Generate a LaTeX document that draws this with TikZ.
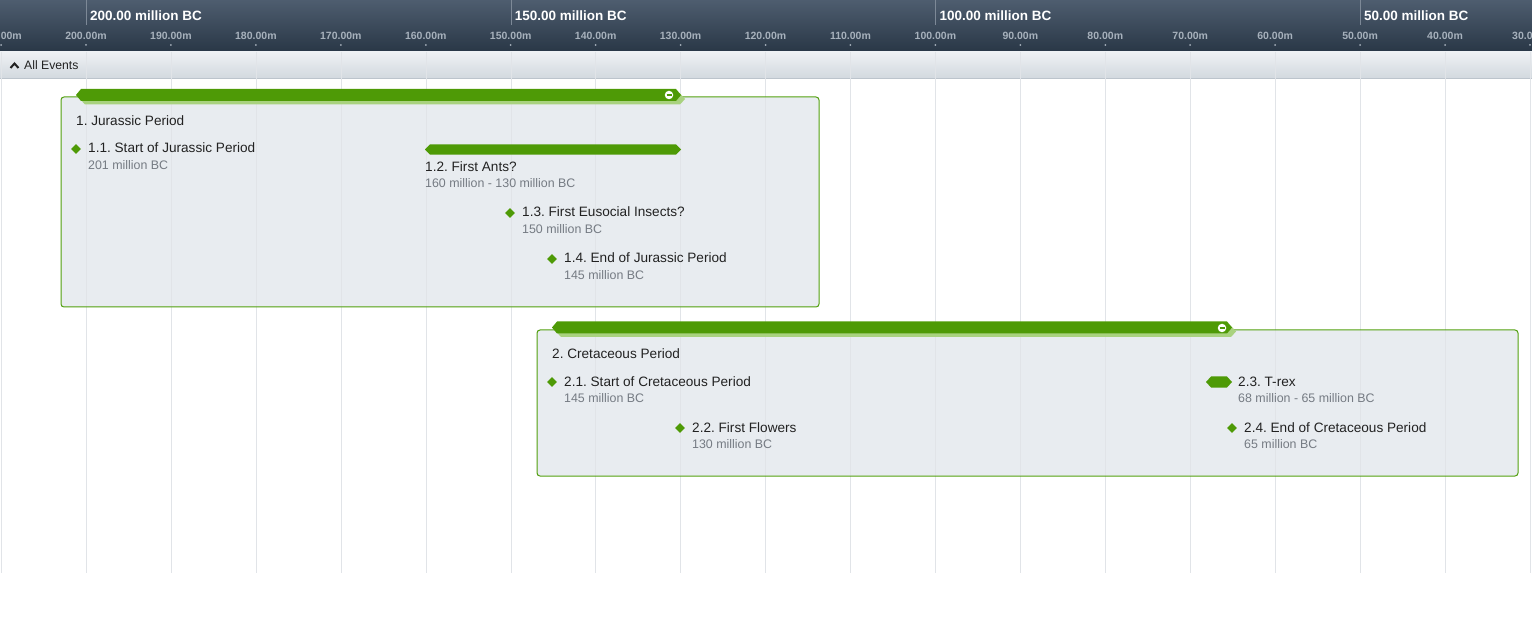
\documentclass[tikz,border=0pt]{standalone}
\usepackage{fontspec}
\setmainfont{Liberation Sans}
\usetikzlibrary{shapes.geometric}

\definecolor{hdrtop}{HTML}{4E5D6F}
\definecolor{hdrbot}{HTML}{293746}
\definecolor{tick}{HTML}{A7B1BC}
\definecolor{sepline}{HTML}{7D8997}
\definecolor{bandtop}{HTML}{EEF1F4}
\definecolor{bandbot}{HTML}{D3D9DF}
\definecolor{bandline}{HTML}{BCC4CC}
\definecolor{gridline}{HTML}{E1E4E8}
\definecolor{evgreen}{HTML}{4E9A06}
\definecolor{evlight}{HTML}{A9D27F}
\definecolor{boxfill}{HTML}{E8ECF0}
\definecolor{boxline}{HTML}{52A00E}
\definecolor{nametext}{HTML}{222222}
\definecolor{datetext}{HTML}{757B83}

% bar with pointed ends: x1, x2, y centre, half height
\newcommand{\evbar}[5][evgreen]{%
  \fill[#1] (#2,#4) -- ({#2+5},{#4-#5}) -- ({#3-5},{#4-#5}) -- (#3,#4)
    -- ({#3-5},{#4+#5}) -- ({#2+5},{#4+#5}) -- cycle;}

\begin{document}
\begin{tikzpicture}[x=1pt,y=-1pt,
  majorlbl/.style={anchor=west,inner sep=0pt,text=white,font=\fontsize{13.5}{16}\selectfont\bfseries},
  minorlbl/.style={inner sep=0pt,text=tick,font=\fontsize{10.5}{12}\selectfont\bfseries},
  evname/.style={anchor=base west,inner sep=0pt,text=nametext,font=\fontsize{13.6}{16}\selectfont},
  evdate/.style={anchor=base west,inner sep=0pt,text=datetext,font=\fontsize{12.4}{14}\selectfont},
  milestone/.style={diamond,fill=evgreen,inner sep=0pt,minimum width=10pt,minimum height=10pt},
  groupbox/.style={draw=boxline,line width=1pt,rounded corners=3pt},
  collapse/.style={circle,fill=white,inner sep=0pt,minimum size=8.5pt}]
\clip (0,0) rectangle (1532,628);
\fill[white] (0,0) rectangle (1532,628);

% header
\shade[top color=hdrtop,bottom color=hdrbot] (0,0) rectangle (1532,52);
\foreach \m in {210,200,...,30} {
  \pgfmathsetmacro\xx{86+(200-\m)*8.494}
  \node[minorlbl] (tick\m) at (\xx,35.5) {\m.00m};
  \fill[tick] (\xx,45) circle (1);
}
\foreach \m/\xx in {200/86,150/510.7,100/935.4,50/1360} {
  \draw[sepline] (\xx,0) -- (\xx,25);
  \node[majorlbl] (major\m) at (\xx+4,15.5) {\m.00 million BC};
}

% all events band
\shade[top color=bandtop,bottom color=bandbot] (0,52) rectangle (1532,78);
\draw[bandline] (0,78) -- (1532,78);
\draw[nametext,line width=2pt] (10.5,68) -- (14.5,63.5) -- (18.5,68);
\node[evdate,text=nametext,font=\fontsize{12.2}{14}\selectfont] (allev) at (24,69.8) {All Events};

% group boxes
\fill[boxfill] (61,97) rectangle (819,307);
\fill[boxfill] (537,330) rectangle (1518,476);

% grid
\foreach \m in {210,200,...,30} {
  \pgfmathsetmacro\xx{86+(200-\m)*8.494}
  \draw[gridline] (\xx,52) -- (\xx,573);
}
\draw[groupbox] (61,97) rectangle (819,307);
\draw[groupbox] (537,330) rectangle (1518,476);

% Jurassic
\evbar[evlight]{80}{685}{99}{5.5}
\evbar{76}{681}{95}{6}
\node[collapse] (jurc) at (669,95) {};
\draw[evgreen,line width=1.2pt] (666.5,95) -- (671.5,95);
\node[evname] (jur) at (76,126) {1.\ Jurassic Period};

\node[milestone] (jur1d) at (76,149) {};
\node[evname] (jur1) at (88,153) {1.1.\ Start of Jurassic Period};
\node[evdate] (jur1t) at (88,169.8) {201 million BC};

\evbar{425}{681}{149.5}{5.2}
\node[evname] (jur2) at (425,171.2) {1.2.\ First Ants?};
\node[evdate] (jur2t) at (425,188) {160 million - 130 million BC};

\node[milestone] (jur3d) at (510,213) {};
\node[evname] (jur3) at (522,217) {1.3.\ First Eusocial Insects?};
\node[evdate] (jur3t) at (522,233.8) {150 million BC};

\node[milestone] (jur4d) at (552,259) {};
\node[evname] (jur4) at (564,263) {1.4.\ End of Jurassic Period};
\node[evdate] (jur4t) at (564,279.8) {145 million BC};

% Cretaceous
\evbar[evlight]{556}{1236}{331.5}{5.5}
\evbar{552}{1232}{327.5}{6}
\node[collapse] (crec) at (1222,328) {};
\draw[evgreen,line width=1.2pt] (1219.5,328) -- (1224.5,328);
\node[evname] (cre) at (552,359) {2.\ Cretaceous Period};

\node[milestone] (cre1d) at (552,382) {};
\node[evname] (cre1) at (564,386) {2.1.\ Start of Cretaceous Period};
\node[evdate] (cre1t) at (564,402.8) {145 million BC};

\node[milestone] (cre2d) at (680,428) {};
\node[evname] (cre2) at (692,432) {2.2.\ First Flowers};
\node[evdate] (cre2t) at (692,448.8) {130 million BC};

\evbar{1206}{1232}{382}{5.5}
\node[evname] (cre3) at (1238,386) {2.3.\ T-rex};
\node[evdate] (cre3t) at (1238,402.8) {68 million - 65 million BC};

\node[milestone] (cre4d) at (1232,428) {};
\node[evname] (cre4) at (1244,432) {2.4.\ End of Cretaceous Period};
\node[evdate] (cre4t) at (1244,448.8) {65 million BC};
\end{tikzpicture}
\end{document}
